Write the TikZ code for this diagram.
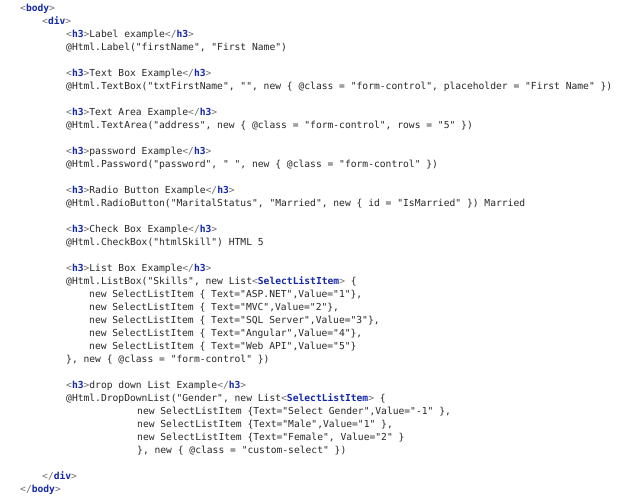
\documentclass[tikz,border=0pt]{standalone}
\usepackage{fontspec}
\setmonofont{DejaVu Sans Mono}
\definecolor{tagc}{RGB}{20,40,170}
\definecolor{txtc}{RGB}{40,40,40}
\definecolor{brc}{RGB}{110,110,110}
\newcommand\tg[1]{\textcolor{brc}{<}\textcolor{tagc}{\textbf{#1}}\textcolor{brc}{>}}
\newcommand\tgc[1]{\textcolor{brc}{</}\textcolor{tagc}{\textbf{#1}}\textcolor{brc}{>}}
\newcommand\sli{\textcolor{tagc}{\textbf{SelectListItem}}}
\begin{document}
\begin{tikzpicture}[x=1pt,y=1pt,
  ln/.style={anchor=base west,inner sep=0pt,font=\ttfamily\fontsize{9.65}{11}\selectfont,text=txtc}]
\useasboundingbox[fill=white] (0,0) rectangle (637,-497);
\def\Y#1{-(11.5+13*(#1-1))}
\node[ln] (l1) at (20,{\Y{1}}) {\tg{body}};
\node[ln] (l2) at (42,{\Y{2}}) {\tg{div}};
\node[ln] (l3) at (66,{\Y{3}}) {\tg{h3}Label example\tgc{h3}};
\node[ln] (l4) at (66,{\Y{4}}) {@Html.Label("firstName", "First Name")};
\node[ln] (l6) at (66,{\Y{6}}) {\tg{h3}Text Box Example\tgc{h3}};
\node[ln] (l7) at (66,{\Y{7}}) {@Html.TextBox("txtFirstName", "", new \{ @class = "form-control", placeholder = "First Name" \})};
\node[ln] (l9) at (66,{\Y{9}}) {\tg{h3}Text Area Example\tgc{h3}};
\node[ln] (l10) at (66,{\Y{10}}) {@Html.TextArea("address", new \{ @class = "form-control", rows = "5" \})};
\node[ln] (l12) at (66,{\Y{12}}) {\tg{h3}password Example\tgc{h3}};
\node[ln] (l13) at (66,{\Y{13}}) {@Html.Password("password", " ", new \{ @class = "form-control" \})};
\node[ln] (l15) at (66,{\Y{15}}) {\tg{h3}Radio Button Example\tgc{h3}};
\node[ln] (l16) at (66,{\Y{16}}) {@Html.RadioButton("MaritalStatus", "Married", new \{ id = "IsMarried" \}) Married};
\node[ln] (l18) at (66,{\Y{18}}) {\tg{h3}Check Box Example\tgc{h3}};
\node[ln] (l19) at (66,{\Y{19}}) {@Html.CheckBox("htmlSkill") HTML 5};
\node[ln] (l21) at (66,{\Y{21}}) {\tg{h3}List Box Example\tgc{h3}};
\node[ln] (l22) at (66,{\Y{22}}) {@Html.ListBox("Skills", new List\textcolor{brc}{<}\sli\textcolor{brc}{>} \{};
\node[ln] (l23) at (89,{\Y{23}}) {new SelectListItem \{ Text="ASP.NET",Value="1"\},};
\node[ln] (l24) at (89,{\Y{24}}) {new SelectListItem \{ Text="MVC",Value="2"\},};
\node[ln] (l25) at (89,{\Y{25}}) {new SelectListItem \{ Text="SQL Server",Value="3"\},};
\node[ln] (l26) at (89,{\Y{26}}) {new SelectListItem \{ Text="Angular",Value="4"\},};
\node[ln] (l27) at (89,{\Y{27}}) {new SelectListItem \{ Text="Web API",Value="5"\}};
\node[ln] (l28) at (66,{\Y{28}}) {\}, new \{ @class = "form-control" \})};
\node[ln] (l30) at (66,{\Y{30}}) {\tg{h3}drop down List Example\tgc{h3}};
\node[ln] (l31) at (66,{\Y{31}}) {@Html.DropDownList("Gender", new List\textcolor{brc}{<}\sli\textcolor{brc}{>} \{};
\node[ln] (l32) at (137,{\Y{32}}) {new SelectListItem \{Text="Select Gender",Value="-1" \},};
\node[ln] (l33) at (137,{\Y{33}}) {new SelectListItem \{Text="Male",Value="1" \},};
\node[ln] (l34) at (137,{\Y{34}}) {new SelectListItem \{Text="Female", Value="2" \}};
\node[ln] (l35) at (137,{\Y{35}}) {\}, new \{ @class = "custom-select" \})};
\node[ln] (l37) at (42,{\Y{37}}) {\tgc{div}};
\node[ln] (l38) at (20,{\Y{38}}) {\tgc{body}};
\end{tikzpicture}
\end{document}
